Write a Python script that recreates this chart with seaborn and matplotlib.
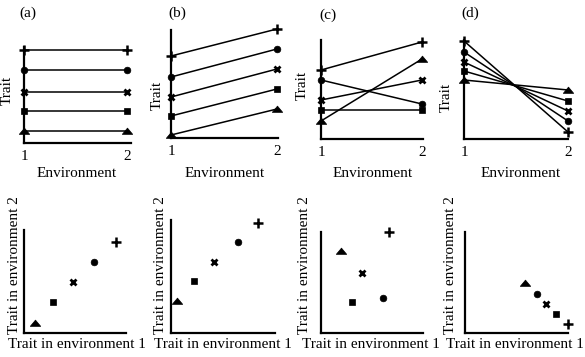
import numpy as np
import pandas as pd
import matplotlib
matplotlib.use("Agg")
import matplotlib.pyplot as plt
import seaborn as sns
from matplotlib.path import Path

sns.set_theme(style="white")
plt.rcParams['font.family'] = ['Liberation Serif', 'DejaVu Serif']

# ---------------- data ----------------
genotypes = ["triangle", "square", "cross", "circle", "plus"]
environments = [1, 2]
env_ticklabels = ["1", "2"]

# top row: trait value in environment 1 and 2 for each genotype
a_env1 = [1.2, 3.2, 5.1, 7.3, 9.3]
a_env2 = [1.2, 3.2, 5.1, 7.3, 9.3]
b_env1 = [0.3, 2.2, 4.1, 6.1, 8.2]
b_env2 = [2.9, 4.9, 6.9, 8.9, 10.9]
c_env1 = [1.8, 2.9, 3.9, 5.9, 6.9]
c_env2 = [8.0, 2.9, 5.9, 3.5, 9.7]
d_env1 = [5.9, 6.8, 7.7, 8.7, 9.8]
d_env2 = [4.9, 3.8, 2.8, 1.8, 0.7]

# bottom row: scatter of trait in env 1 vs env 2
sa_x = [1.1, 2.9, 4.9, 7.0, 9.2]
sa_y = [1.0, 3.1, 5.1, 7.1, 9.1]
sb_x = [0.6, 2.3, 4.3, 6.7, 8.7]
sb_y = [3.2, 5.2, 7.1, 9.1, 11.0]
sc_x = [2.0, 3.1, 4.1, 6.2, 6.8]
sc_y = [8.2, 3.1, 6.0, 3.5, 10.1]
sd_x = [6.0, 9.1, 8.1, 7.2, 10.3]
sd_y = [5.0, 1.9, 2.9, 3.9, 0.9]

panel_labels = ["(a)", "(b)", "(c)", "(d)"]

# ---------------- style ----------------
W, H = 585, 357
wide_tri = Path([(-1.0, -0.55), (1.0, -0.55), (0.0, 0.65), (-1.0, -0.55)],
                [Path.MOVETO, Path.LINETO, Path.LINETO, Path.CLOSEPOLY])
marker_style = {
    "triangle": dict(marker=wide_tri, markersize=7.5, markeredgewidth=0.5),
    "square": dict(marker="s", markersize=4.2, markeredgewidth=0.5),
    "cross": dict(marker="x", markersize=4.5, markeredgewidth=2.0),
    "circle": dict(marker="o", markersize=4.8, markeredgewidth=0.5),
    "plus": dict(marker="+", markersize=6.5, markeredgewidth=1.8),
}

fig = plt.figure(figsize=(W / 100, H / 100), dpi=100)
fig.patch.set_facecolor("white")


def add_ax(left, top, right, bottom):
    return fig.add_axes([left / W, 1 - bottom / H, (right - left) / W, (bottom - top) / H])


def style_ax(ax):
    ax.set_facecolor("white")
    sns.despine(ax=ax)
    for s in ("left", "bottom"):
        ax.spines[s].set_color("black")
        ax.spines[s].set_linewidth(1.6)
    ax.tick_params(length=0)
    ax.set_yticks([])
    ax.grid(False)
    ax.set_xlabel("")
    ax.set_ylabel("")


def ftext(x, y, s, **kw):
    fig.text(x / W, 1 - y / H, s, fontsize=11, color="black", **kw)


top_px = [(24, 47, 131, 143), (171, 30, 278, 138), (321, 40, 423, 139), (464, 40, 568, 139)]
top_xmax = [2.04, 2.01, 2.01, 2.0]
top_data = [(a_env1, a_env2), (b_env1, b_env2), (c_env1, c_env2), (d_env1, d_env2)]
top_ylab = [(7.5, 90), (157, 95), (302, 85), (446, 97)]
top_xlab = [77, 225, 373, 521]
plab = [(28, 13), (177, 13), (328, 15), (470, 13)]

for i, (px, xm, (e1, e2)) in enumerate(zip(top_px, top_xmax, top_data)):
    ax = add_ax(*px)
    for g, v1, v2 in zip(genotypes, e1, e2):
        sns.lineplot(x=environments, y=[v1, v2], ax=ax, color="black", linewidth=1.1,
                     markerfacecolor="black", markeredgecolor="black", clip_on=False,
                     **marker_style[g])
    ax.set_xlim(1, xm)
    ax.set_ylim(0, (px[3] - px[1]) / 10)
    style_ax(ax)
    ax.set_xticks(environments)
    ax.set_xticklabels(env_ticklabels, fontsize=11, color="black")
    ax.tick_params(axis="x", pad=5)
    ftext(top_xlab[i], 173, "Environment", ha="center", va="center")
    ftext(*top_ylab[i], "Trait", ha="center", va="center", rotation=90)
    ftext(*plab[i], panel_labels[i], ha="center", va="center")

bot_px = [(24, 230, 126, 333), (171, 220, 275, 333), (321, 232, 423, 333), (465, 232, 568, 333)]
bot_data = [(sa_x, sa_y), (sb_x, sb_y), (sc_x, sc_y), (sd_x, sd_y)]
bot_xlab = [77, 223, 371, 515]
bot_ylab_x = [15, 160, 305, 450]

for i, (px, (sx, sy)) in enumerate(zip(bot_px, bot_data)):
    ax = add_ax(*px)
    for g, x, y in zip(genotypes, sx, sy):
        sns.lineplot(x=[x], y=[y], ax=ax, color="black", linestyle="none",
                     markerfacecolor="black", markeredgecolor="black", clip_on=False,
                     **marker_style[g])
    ax.set_xlim(0, (px[2] - px[0]) / 10)
    ax.set_ylim(0, (px[3] - px[1]) / 10)
    style_ax(ax)
    ax.set_xticks([])
    ftext(bot_xlab[i], 344, "Trait in environment 1", ha="center", va="center")
    ftext(bot_ylab_x[i], 265, "Trait in environment 2", ha="center", va="center", rotation=90)

fig.savefig("out.png", dpi=100, facecolor="white")
